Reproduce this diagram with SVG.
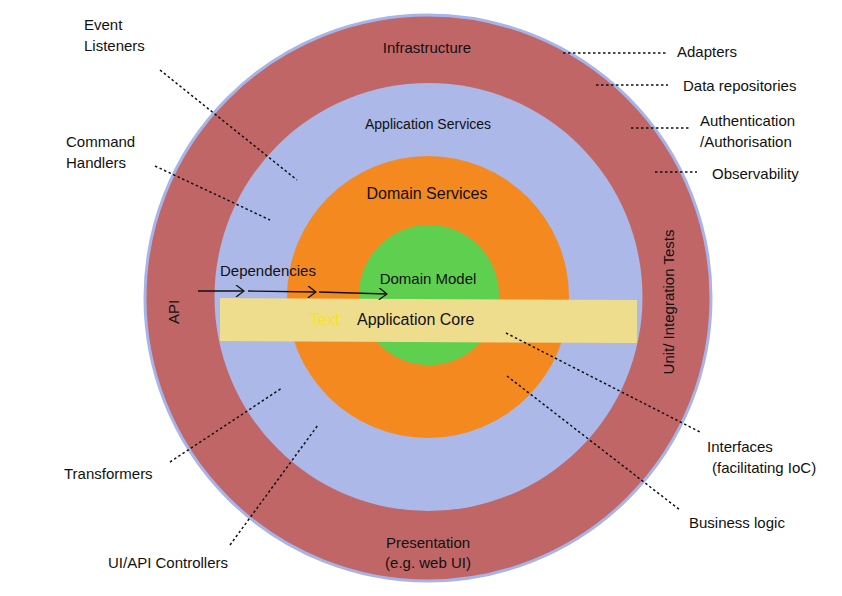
<svg xmlns="http://www.w3.org/2000/svg" width="842" height="596" viewBox="0 0 842 596">
<style>
text{font-family:"Liberation Sans",Arial,sans-serif;font-size:15px;fill:#111}
.d{stroke:#111;stroke-width:1.5;stroke-dasharray:2.5 2.5;fill:none}
.a{stroke:#111;stroke-width:1.3;fill:none}
</style>
<defs><marker id="m" markerWidth="10" markerHeight="12" refX="9" refY="6" orient="auto" markerUnits="userSpaceOnUse"><path d="M1,0 L9,6 L1,12" fill="none" stroke="#111" stroke-width="1.3"/></marker></defs>
<rect width="842" height="596" fill="#fff"/>
<g id="infrastructure"><circle cx="428" cy="298" r="283" fill="#c06666" stroke="#a7b4ea" stroke-width="3"/>
<text x="427" y="53" text-anchor="middle">Infrastructure</text>
<text x="428" y="548" text-anchor="middle">Presentation</text><text x="428" y="568" text-anchor="middle">(e.g. web UI)</text>
<text transform="translate(179,312) rotate(-90)" text-anchor="middle">API</text>
<text transform="translate(674,302) rotate(-90)" text-anchor="middle">Unit/ Integration Tests</text></g>
<g id="appservices"><circle cx="428.5" cy="297" r="214" fill="#abb8e8"/>
<text x="428" y="129" text-anchor="middle" style="font-size:14px">Application Services</text></g>
<g id="domainservices"><circle cx="428" cy="297" r="141" fill="#f4891f"/>
<text x="427" y="199" text-anchor="middle" style="font-size:16px">Domain Services</text></g>
<g id="domainmodel"><circle cx="429" cy="295" r="70" fill="#5fcf4f"/>
<text x="428" y="284" text-anchor="middle">Domain Model</text></g>
<g id="core"><polygon points="220,298 637,300 637,343 220,341" fill="#efdd8e"/>
<text x="310" y="325" style="fill:#f5e22a;font-size:16px">Text</text>
<text x="357" y="325" style="font-size:16px">Application Core</text></g>
<g id="deps"><text x="220" y="276">Dependencies</text></g>
<g id="connectors">
<line class="a" x1="198" y1="291" x2="244" y2="291" marker-end="url(#m)"/>
<line class="a" x1="248" y1="291" x2="316" y2="292" marker-end="url(#m)"/>
<line class="a" x1="319" y1="292" x2="387" y2="294" marker-end="url(#m)"/>
<line class="d" x1="160" y1="70" x2="297" y2="180"/>
<line class="d" x1="155" y1="166" x2="270" y2="220"/>
<line class="d" x1="170" y1="462" x2="282" y2="388"/>
<line class="d" x1="230" y1="545" x2="318" y2="425"/>
<line class="d" x1="506" y1="333" x2="700" y2="432"/>
<line class="d" x1="507" y1="376" x2="680" y2="510"/>
<line class="d" x1="563" y1="53" x2="666" y2="53"/>
<line class="d" x1="596" y1="85" x2="668" y2="85"/>
<line class="d" x1="631" y1="128" x2="689" y2="128"/>
<line class="d" x1="655" y1="172" x2="697" y2="172"/>
</g>
<g id="labels">
<text x="84" y="30">Event</text><text x="84" y="51">Listeners</text>
<text x="66" y="147">Command</text><text x="66" y="168">Handlers</text>
<text x="64" y="479">Transformers</text>
<text x="108" y="568">UI/API Controllers</text>
<text x="707" y="452">Interfaces</text><text x="712" y="473">(facilitating IoC)</text>
<text x="689" y="528">Business logic</text>
<text x="677" y="57">Adapters</text>
<text x="683" y="91">Data repositories</text>
<text x="700" y="126">Authentication</text><text x="700" y="147">/Authorisation</text>
<text x="712" y="179">Observability</text>
</g>
</svg>
